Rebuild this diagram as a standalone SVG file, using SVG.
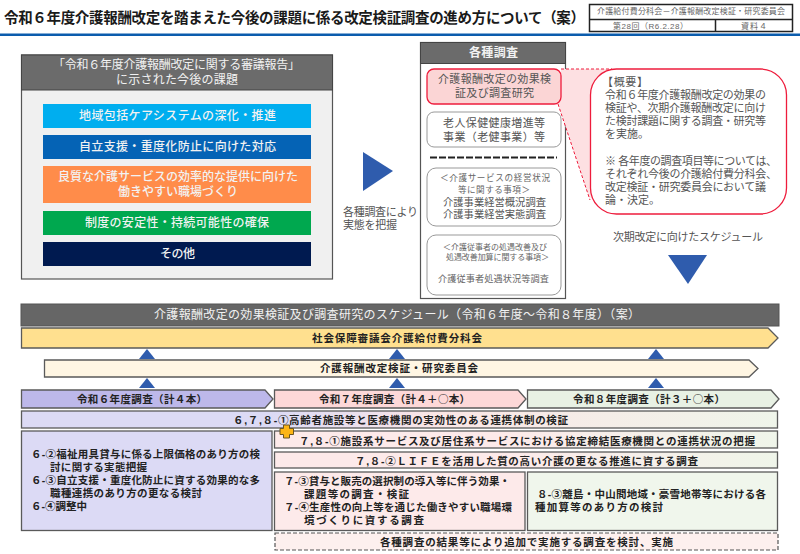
<svg xmlns="http://www.w3.org/2000/svg" width="800" height="554" viewBox="0 0 800 554">
<style>
text{font-family:"Liberation Sans","Noto Sans CJK JP",sans-serif;fill:#333;font-size:11px}
.w{fill:#f2f2f2;font-size:12px;font-weight:500}
.hd{fill:#6b6b6b;stroke:#444;stroke-width:1}
.g{fill:#555;font-size:11px}
.s{fill:#666;font-size:8.6px}
.b{fill:#222;font-size:10.500px;font-weight:700}
.c{font-family:"Noto Sans CJK JP",sans-serif;font-weight:400}
.rb{fill:#fff;stroke:#999;stroke-width:1}
.bx{stroke:#5a5a5a;stroke-width:1.3}
.tri{fill:#2f5cad}
.redd{stroke:#ee1c3c;stroke-width:1;stroke-dasharray:3 2;fill:none}
</style>
<defs>
<linearGradient id="grad" x1="0" x2="1" y1="0" y2="0"><stop offset="0" stop-color="#dcdaf5"/><stop offset="0.33" stop-color="#dcdaf5"/><stop offset="0.55" stop-color="#fbe6e6"/><stop offset="1" stop-color="#eff5ea"/></linearGradient>
<linearGradient id="grad2" x1="0" x2="1" y1="0" y2="0"><stop offset="0" stop-color="#fdeaea"/><stop offset="0.45" stop-color="#fdeaea"/><stop offset="1" stop-color="#eff5ea"/></linearGradient>
</defs>
<rect width="800" height="554" fill="#fff"/>
<g id="title">
<text x="4" y="23" textLength="581" style="font-size:14.500px;font-weight:700;fill:#1a1a1a">令和６年度介護報酬改定を踏まえた今後の課題に係る改定検証調査の進め方について（案）</text>
<rect x="0" y="33.500" width="800" height="2.500" fill="#0b5cad"/>
</g>
<g id="meta">
<rect x="589.500" y="4.500" width="203" height="27" fill="#fff" stroke="#222" stroke-width="1.500"/>
<path d="M589.500 19.500H792.500M715.500 19.500V31.500" stroke="#222" stroke-width="1.500"/>
<text x="597" y="13.500" textLength="188" class="s" style="font-size:8px">介護給付費分科会－介護報酬改定検証・研究委員会</text>
<text x="613" y="29" textLength="75" class="s" style="font-size:8px">第28回（R6.2.28）</text>
<text x="741" y="29" textLength="26" class="s" style="font-size:8px">資料４</text>
</g>
<g id="issues">
<rect x="21.500" y="55" width="311" height="224" fill="#f0f0f0" stroke="#555" stroke-width="1.200"/>
<rect x="21.500" y="55" width="311" height="35" class="hd"/>
<text x="53" y="69" textLength="247" class="w" style="font-weight:400">「令和６年度介護報酬改定に関する審議報告」</text>
<text x="116" y="84" textLength="122" class="w" style="font-weight:400">に示された今後の課題</text>
</g>
<g id="issue1"><rect x="43" y="104" width="268" height="24" fill="#00aeef"/><text x="79" y="120" textLength="197" class="w">地域包括ケアシステムの深化・推進</text></g>
<g id="issue2"><rect x="43" y="135" width="268" height="24" fill="#0563b5"/><text x="79" y="151" textLength="197" class="w">自立支援・重度化防止に向けた対応</text></g>
<g id="issue3"><rect x="43" y="166" width="268" height="37" fill="#ff8c4a"/><text x="58" y="181" textLength="240" class="w">良質な介護サービスの効率的な提供に向けた</text><text x="118" y="196" textLength="120" class="w">働きやすい職場づくり</text></g>
<g id="issue4"><rect x="43" y="211" width="268" height="24" fill="#00a84f"/><text x="85" y="227" textLength="184" class="w">制度の安定性・持続可能性の確保</text></g>
<g id="issue5"><rect x="43" y="242" width="268" height="24" fill="#001a50"/><text x="160" y="258" textLength="35" class="w">その他</text></g>
<g id="arrow-right">
<polygon points="363,152 393,171 363,191" class="tri"/>
<text x="343" y="216" textLength="75" class="g">各種調査により</text>
<text x="343" y="229" textLength="54" class="g">実態を把握</text>
</g>
<g id="surveys">
<rect x="420.500" y="42.500" width="145" height="256" fill="#fff" stroke="#555" stroke-width="1.200"/>
<rect x="420.500" y="42.500" width="145" height="21" class="hd"/>
<text x="469" y="57" textLength="49" class="w" style="font-weight:700">各種調査</text>
</g>
<g id="callout-wedge">
<polygon points="561,69 610,69 590,200 558,104" fill="#fde0e2"/>
<path d="M561 69H612M558 104L590 200" class="redd"/>
</g>
<g id="s1"><rect x="427" y="69" width="134" height="35" rx="7" fill="#fbd5d5" stroke="#ee1c3c" stroke-width="1.300"/><text x="438" y="83" textLength="113" class="g">介護報酬改定の効果検</text><text x="455" y="97" textLength="79" class="g">証及び調査研究</text></g>
<g id="s2"><rect x="427" y="112" width="134" height="35" rx="7" class="rb"/><text x="443" y="127" textLength="102" class="g">老人保健健康増進等</text><text x="443" y="141" textLength="102" class="g">事業（老健事業）等</text></g>
<path id="divider" d="M430 157.500H557" stroke="#222" stroke-width="2" stroke-dasharray="7 2"/>
<g id="s3"><rect x="427" y="168" width="134" height="58" rx="9" class="rb"/><text x="440" y="181" textLength="110" class="s">＜介護サービスの経営状況</text><text x="458" y="193" textLength="72" class="s">等に関する事項＞</text><text x="443" y="206" textLength="103" class="g" style="font-size:10.300px">介護事業経営概況調査</text><text x="443" y="218" textLength="103" class="g" style="font-size:10.300px">介護事業経営実態調査</text></g>
<g id="s4"><rect x="427" y="235" width="134" height="60" rx="9" class="rb"/><text x="443" y="250" textLength="104" class="s" style="font-size:8px">＜介護従事者の処遇改善及び</text><text x="446" y="260" textLength="103" class="s" style="font-size:8px">処遇改善加算に関する事項＞</text><text x="438" y="282" textLength="111" class="s" style="font-size:9.200px">介護従事者処遇状況等調査</text></g>
<g id="callout">
<rect x="590.500" y="69" width="196" height="145" rx="26" fill="#fff" stroke="#ee1c3c" stroke-width="1.300"/>
<text x="602" y="86" textLength="46" class="g">【概要】</text>
<text x="605" y="99" textLength="161" class="g">令和６年度介護報酬改定の効果の</text>
<text x="605" y="112" textLength="161" class="g">検証や、次期介護報酬改定に向け</text>
<text x="605" y="125" textLength="161" class="g">た検討課題に関する調査・研究等</text>
<text x="605" y="138" textLength="44" class="g">を実施。</text>
<text x="605" y="165" textLength="172" class="g">※ 各年度の調査項目等については、</text>
<text x="605" y="178" textLength="172" class="g">それぞれ今後の介護給付費分科会、</text>
<text x="605" y="191" textLength="161" class="g">改定検証・研究委員会において議</text>
<text x="605" y="204" textLength="55" class="g">論・決定。</text>
</g>
<g id="arrow-down">
<text x="613" y="241" textLength="150" class="g">次期改定に向けたスケジュール</text>
<polygon points="668,255 707,255 688,284" class="tri"/>
</g>
<g id="schedule-header">
<rect x="21" y="304" width="758" height="22" fill="#666" stroke="#555" stroke-width="1"/>
<text x="154" y="319" textLength="486" class="w" style="font-weight:400">介護報酬改定の効果検証及び調査研究のスケジュール（令和６年度～令和８年度）（案）</text>
</g>
<g id="bar-council">
<polygon points="21.500,328 768,328 778,338 768,348 21.500,348" fill="#ffe08f" class="bx"/>
<text x="312" y="342" textLength="170" class="b">社会保障審議会介護給付費分科会</text>
</g>
<g id="bar-committee">
<polygon points="44.500,360 749,360 758,368.500 749,377 44.500,377" fill="#fff6e3" class="bx"/>
<text x="320" y="372" textLength="158" class="b">介護報酬改定検証・研究委員会</text>
</g>
<g id="connectors">
<polygon points="147,349 139,359 155,359" class="tri"/>
<polygon points="397,349 389,359 405,359" class="tri"/>
<polygon points="656,349 648,359 664,359" class="tri"/>
<polygon points="147,378 139,388 155,388" class="tri"/>
<polygon points="397,378 389,388 405,388" class="tri"/>
<polygon points="656,378 648,388 664,388" class="tri"/>
</g>
<g id="fy6"><polygon points="21.500,390 265,390 273,399 265,408 21.500,408" fill="#bdb8ea" class="bx"/><text x="77" y="403" textLength="130" class="b">令和６年度調査（計４本）</text></g>
<g id="fy7"><polygon points="274.500,390 518,390 526,399 518,408 274.500,408" fill="#fdd8d8" class="bx"/><text x="319" y="403" textLength="151" class="b">令和７年度調査（計４＋<tspan class="c">○</tspan>本）</text></g>
<g id="fy8"><polygon points="527.500,390 771,390 779,399 771,408 527.500,408" fill="#e8f1e4" class="bx"/><text x="573" y="403" textLength="152" class="b">令和８年度調査（計３＋<tspan class="c">○</tspan>本）</text></g>
<g id="r1"><rect x="21.500" y="411" width="756" height="17" fill="url(#grad)" class="bx"/><text x="233" y="423.500" textLength="335" class="b">６,７,８-①高齢者施設等と医療機関の実効性のある連携体制の検証</text></g>
<g id="r2"><rect x="21.500" y="431" width="250.500" height="99.500" fill="#dcdaf5" class="bx"/>
<text x="31" y="458" textLength="229" class="b">６-②福祉用具貸与に係る上限価格のあり方の検</text>
<text x="50" y="471" textLength="97" class="b">討に関する実態把握</text>
<text x="31" y="484" textLength="229" class="b">６-③自立支援・重度化防止に資する効果的な多</text>
<text x="50" y="497" textLength="152" class="b">職種連携のあり方の更なる検討</text>
<text x="31" y="510" textLength="56" class="b">６-④調整中</text></g>
<g id="r3"><rect x="274.500" y="431" width="503" height="17" fill="url(#grad2)" class="bx"/><text x="299" y="444.500" textLength="456" class="b">７,８-①施設系サービス及び居住系サービスにおける協定締結医療機関との連携状況の把握</text></g>
<g id="r4"><rect x="274.500" y="452" width="503" height="16" fill="url(#grad2)" class="bx"/><text x="355" y="464.500" textLength="343" class="b">７,８-②ＬＩＦＥを活用した質の高い介護の更なる推進に資する調査</text></g>
<g id="r5"><rect x="274.500" y="472" width="250.500" height="58.500" fill="#fdeaea" class="bx"/>
<text x="284" y="485" textLength="226" class="b">７-③貸与と販売の選択制の導入等に伴う効果・</text>
<text x="304" y="498" textLength="105" class="b">課題等の調査・検証</text>
<text x="284" y="511" textLength="228" class="b">７-④生産性の向上等を通じた働きやすい職場環</text>
<text x="304" y="524" textLength="120" class="b">境づくりに資する調査</text></g>
<g id="r6"><rect x="527.500" y="472" width="250" height="58.500" fill="#f0f6ec" class="bx"/>
<text x="537" y="498" textLength="229" class="b">８-③離島・中山間地域・豪雪地帯等における各</text>
<text x="535" y="511" textLength="128" class="b">種加算等のあり方の検討</text></g>
<g id="r7"><rect x="275" y="533" width="503" height="17" fill="#fdf0ee" stroke="#555" stroke-width="1.200" stroke-dasharray="4 2"/><text x="380" y="545.500" textLength="293" class="b">各種調査の結果等により追加で実施する調査を検討、実施</text></g>
<g id="plus"><path d="M283.500 425H289.500V428.500H293.500V434.500H289.500V438H283.500V434.500H280V428.500H283.500Z" fill="#fdb515" stroke="#6b5520" stroke-width="1"/></g>
</svg>
